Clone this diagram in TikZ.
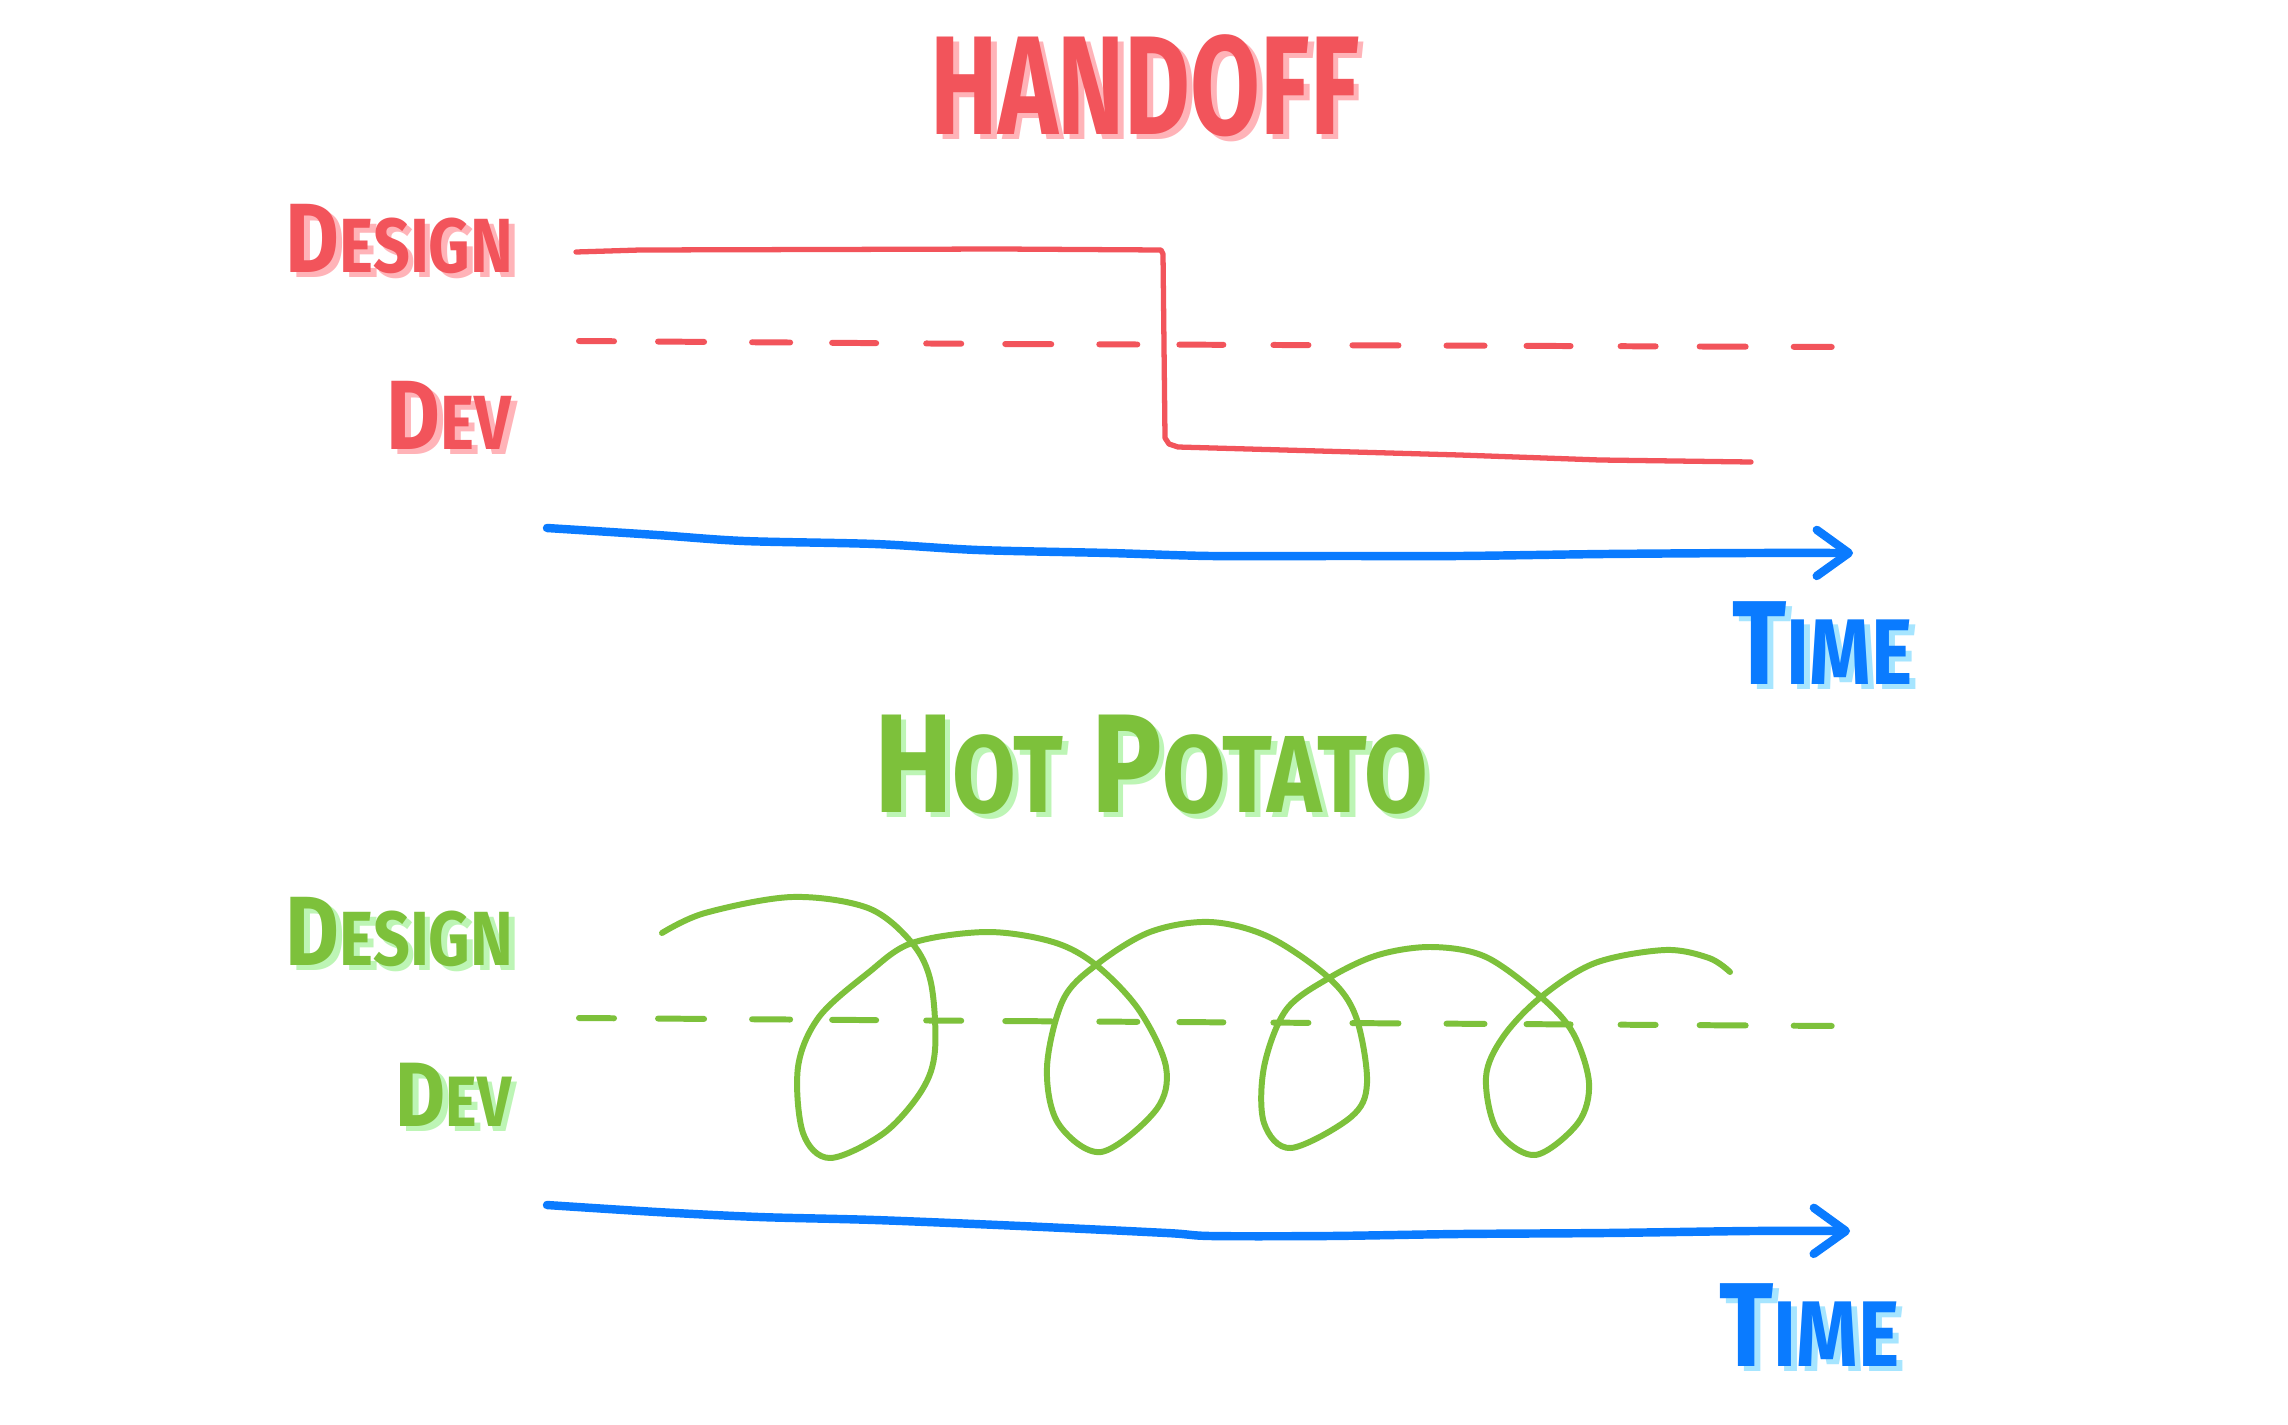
\documentclass[tikz,border=0pt]{standalone}
\usepackage{fontspec}
\usepackage{graphicx}
\usepackage{xcolor}
\usetikzlibrary{arrows.meta}

\newfontfamily\handfont[FakeStretch=0.72]{Fira Sans}
\newfontfamily\handwidefont[FakeStretch=0.84]{Fira Sans}

\definecolor{handred}{HTML}{F2545B}
\definecolor{handredlight}{HTML}{FFB3B8}
\definecolor{handgreen}{HTML}{7DC13B}
\definecolor{handgreenlight}{HTML}{BDF5B5}
\definecolor{handblue}{HTML}{0A7BFF}
\definecolor{handbluelight}{HTML}{A6E5FF}

% lettering with a light offset shadow behind it
\newcommand{\inked}[3]{\makebox[0pt][l]{\hspace{1.6pt}\raisebox{-1.6pt}{\textcolor{#2}{#3}}}\textcolor{#1}{#3}}
\newcommand{\lowcaps}[1]{\scalebox{0.78}{#1}}

\tikzset{
    headline/.style={font=\handfont\bfseries\fontsize{40}{40}\selectfont, inner sep=0pt, anchor=base},
    lane/.style={font=\handwidefont\bfseries\fontsize{28}{28}\selectfont, inner sep=0pt, anchor=base east},
    timelabel/.style={font=\handwidefont\bfseries\fontsize{34}{34}\selectfont, inner sep=0pt, anchor=base west},
    wobble/.style={line cap=round, line join=round},
    divider/.style={wobble, line width=1.7pt, dash pattern=on 3.5mm off 4.4mm on 4.6mm off 4.8mm on 3.8mm off 4.2mm on 4.4mm off 5mm},
    timeaxis/.style={wobble, handblue, line width=2.4pt, -{Straight Barb[length=3.2mm, width=4.6mm, line cap=round, line join=round]}}
}

\begin{document}
\begin{tikzpicture}[x=0.01cm, y=-0.01cm]
    \useasboundingbox[fill=white] (0,0) rectangle (2288,1424);

    % Handoff
    \node[headline] (handoff) at (1145,134) {\inked{handred}{handredlight}{HANDOFF}};
    \node[lane] (designA) at (514,272) {\inked{handred}{handredlight}{D\lowcaps{ESIGN}}};
    \node[lane] (devA) at (512,449) {\inked{handred}{handredlight}{D\lowcaps{EV}}};

    \draw[divider, handred] (579,341) -- (1000,344) -- (1841,347);
    \draw[wobble, handred, line width=1.5pt] (576,252) -- (640,250) -- (1000,249) -- (1161,250) -- (1163,254)
        -- (1165,438) -- (1169,444) -- (1178,447) -- (1460,455) -- (1600,460) -- (1751,462);

    \draw[timeaxis] plot[smooth, tension=0.5] coordinates {(547,528) (657,535) (744,541) (875,544) (978,550) (1109,553) (1211,556) (1342,556) (1459,556) (1605,554) (1751,553) (1853,553)};
    \node[timelabel] (timeA) at (1732,684) {\inked{handblue}{handbluelight}{T\lowcaps{IME}}};

    % Hot potato
    \node[headline, font=\handwidefont\bfseries\fontsize{40}{40}\selectfont] (hotpotato) at (1151,812) {\inked{handgreen}{handgreenlight}{H\lowcaps{OT} P\lowcaps{OTATO}}};
    \node[lane] (designB) at (514,965) {\inked{handgreen}{handgreenlight}{D\lowcaps{ESIGN}}};
    \node[lane, font=\handwidefont\bfseries\fontsize{26}{26}\selectfont] (devB) at (512,1126) {\inked{handgreen}{handgreenlight}{D\lowcaps{EV}}};

    \draw[divider, handgreen] (579,1018) -- (1000,1021) -- (1841,1026);
    \draw[wobble, handgreen, line width=1.7pt] plot[smooth, tension=0.55] coordinates {
        (662,933) (705,913) (792,897) (868,908) (912,943) (931,983) (935,1050) (922,1090) (884,1133) (830,1158)
        (803,1133) (798,1067) (819,1017) (868,973) (912,943) (987,932) (1053,942) (1096,965) (1139,1010) (1166,1067)
        (1156,1110) (1101,1152) (1058,1123) (1047,1067) (1063,1000) (1096,965) (1150,932) (1210,922) (1269,937) (1329,978)
        (1356,1017) (1367,1083) (1351,1117) (1291,1148) (1264,1123) (1264,1067) (1286,1010) (1329,978) (1378,955) (1432,947)
        (1486,957) (1541,997) (1573,1033) (1589,1083) (1578,1123) (1535,1155) (1497,1130) (1486,1077) (1503,1037) (1541,997)
        (1595,963) (1665,950) (1709,958) (1730,972)};

    \draw[timeaxis] plot[smooth, tension=0.5] coordinates {(547,1205) (657,1212) (759,1217) (875,1220) (1021,1226) (1167,1233) (1211,1236) (1328,1236) (1459,1234) (1605,1233) (1751,1231) (1850,1231)};
    \node[timelabel] (timeB) at (1719,1366) {\inked{handblue}{handbluelight}{T\lowcaps{IME}}};
\end{tikzpicture}
\end{document}
